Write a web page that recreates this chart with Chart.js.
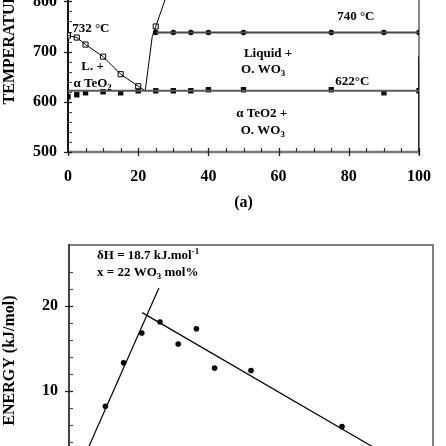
<!DOCTYPE html>
<html><head><meta charset="utf-8">
<script src="https://cdn.jsdelivr.net/npm/chart.js@4.4.0/dist/chart.umd.min.js"></script>
<style>
html,body{margin:0;padding:0;width:446px;height:446px;overflow:hidden;background:#fff;position:relative;}
#c1{position:absolute;left:0;top:-130px;width:446px;height:345px;}
#c2{position:absolute;left:0;top:224px;width:446px;height:307px;}
</style></head><body>
<canvas id="c1" width="446" height="345"></canvas>
<canvas id="c2" width="446" height="307"></canvas>
<script>
// ---------- (a) phase diagram TeO2 - WO3 ----------
const liqX = [0, 2.5, 5, 10, 15, 20, 25];
const liqT = [732, 728, 714, 690, 655, 631, 750];
const liqLineX = [0, 2.5, 5, 10, 15, 20, 22, 24, 25, 28];
const liqLineT = [732, 728, 714, 690, 655, 631, 622, 730, 750, 810];
const monoX = [25, 30, 35, 40, 50, 75, 90, 100];
const monoT = [738, 738, 738, 738, 738, 738, 738, 738];
const eutX = [0, 2.5, 5, 10, 15, 20, 25, 30, 35, 40, 50, 75, 90, 100];
const eutT = [610, 614, 618, 620, 618, 622, 622, 622, 622, 624, 624, 624, 618, 622];
const eutLineX = [0, 100];
const eutLineT = [622, 622];
const wo3LineX = [100, 100];
const wo3LineT = [690, 500];
const xTicksA = [0, 20, 40, 60, 80, 100];
const yTicksA = [500, 600, 700, 800];

// ---------- (b) energy ----------
const enX = [10, 15, 20, 25, 30, 35, 40, 50, 75];
const enY = [8.2, 13.3, 16.8, 18.1, 15.5, 17.3, 12.7, 12.4, 5.8];
const fit1X = [3, 24.7];
const fit1Y = [1.1, 22.1];
const fit2X = [20.1, 86];
const fit2Y = [19.2, 2.8];
const yTicksB = [10, 20];

const pts = (xs, ys) => xs.map((x, i) => ({x, y: ys[i]}));
const FONT = '"Liberation Serif", "Times New Roman", serif';

function drawRich(ctx, x, y, segs, size, align) {
  let w = 0;
  const m = segs.map(s => {
    const sz = (s.sub || s.sup) ? size * 0.68 : size;
    ctx.font = `bold ${sz}px ${FONT}`;
    const sw = ctx.measureText(s.t).width; w += sw;
    return {s, sz, sw};
  });
  let cx = align === 'left' ? x : x - w / 2;
  const base = y + size * 0.33;
  ctx.textBaseline = 'alphabetic'; ctx.textAlign = 'left'; ctx.fillStyle = '#000';
  m.forEach(({s, sz, sw}) => {
    ctx.font = `bold ${sz}px ${FONT}`;
    let dy = 0;
    if (s.sub) dy = size * 0.25;
    if (s.sup) dy = -size * 0.4;
    ctx.fillText(s.t, cx, base + dy);
    cx += sw;
  });
}

function annot(id, items, size) {
  return { id, afterDatasetsDraw(chart) {
    const {ctx, scales: {x, y}} = chart;
    ctx.save();
    items.forEach(it => drawRich(ctx, x.getPixelForValue(it.x), y.getPixelForValue(it.y), it.segs, size, it.align));
    ctx.restore();
  }};
}

function frame(id, cfg) {
  return { id, beforeDatasetsDraw(chart) {
    const {ctx, chartArea: a, scales: {x, y}} = chart;
    ctx.save();
    const line = (x1, y1, x2, y2, c, w) => { ctx.strokeStyle = c; ctx.lineWidth = w; ctx.beginPath(); ctx.moveTo(x1, y1); ctx.lineTo(x2, y2); ctx.stroke(); };
    if (cfg.top) line(a.left, a.top, a.right + 1, a.top, cfg.top.c, cfg.top.w);
    if (cfg.right) line(a.right, a.top, a.right, a.bottom + (cfg.right.ext || 0), cfg.right.c, cfg.right.w);
    if (cfg.bottom) line(a.left, a.bottom, a.right, a.bottom, cfg.bottom.c, cfg.bottom.w);
    if (cfg.left) line(a.left, a.top - 1, a.left, a.bottom + 1, cfg.left.c, cfg.left.w);
    if (cfg.xMajor) {
      x.ticks.forEach(t => {
        if (Math.abs(t.value % cfg.xStep) > 1e-6) return;
        const px = Math.round(x.getPixelForValue(t.value)) + 0.5;
        if (cfg.xMajor.includes(t.value)) line(px, a.bottom - 4, px, a.bottom + 4, '#222', 1.3);
        else line(px, a.bottom - 4, px, a.bottom, '#333', 1.2);
      });
    }
    y.ticks.forEach(t => {
      if (Math.abs(t.value % cfg.yStep) > 1e-6) return;
      const py = Math.round(y.getPixelForValue(t.value)) + 0.5;
      if (cfg.yMajor.includes(t.value)) line(a.left - 4, py, a.left + 4, py, '#222', 1.3);
      else line(a.left, py, a.left + 4, py, '#444', 1.1);
    });
    ctx.restore();
  }};
}

const labelsA = [
  {x: 6.5, y: 747, segs: [{t: '732 °C'}]},
  {x: 7.0, y: 672, segs: [{t: 'L. +'}]},
  {x: 7.0, y: 638, segs: [{t: 'α TeO'}, {t: '2', sub: 1}]},
  {x: 82, y: 771, segs: [{t: '740 °C'}]},
  {x: 57, y: 698, segs: [{t: 'Liquid +'}]},
  {x: 55.6, y: 666, segs: [{t: 'O. WO'}, {t: '3', sub: 1}]},
  {x: 81, y: 643, segs: [{t: '622°C'}]},
  {x: 55.2, y: 579, segs: [{t: 'α TeO2 +'}]},
  {x: 55.5, y: 545, segs: [{t: 'O. WO'}, {t: '3', sub: 1}]}
];
const labelsB = [
  {x: 7.7, y: 26.0, align: 'left', segs: [{t: 'δH = 18.7 kJ.mol'}, {t: '-1', sup: 1}]},
  {x: 7.7, y: 24.0, align: 'left', segs: [{t: 'x = 22 WO'}, {t: '3', sub: 1}, {t: ' mol%'}]}
];

const tickFont = {family: FONT, weight: 'bold', size: 16};
const titleFont = {family: FONT, weight: 'bold', size: 16};

new Chart(document.getElementById('c1'), {
  type: 'scatter',
  data: {datasets: [
    {data: pts(eutLineX, eutLineT), showLine: true, borderColor: '#5a5a5a', borderWidth: 2, pointRadius: 0},
    {data: pts(monoX, monoT), showLine: true, borderColor: '#4a4a4a', borderWidth: 2, pointRadius: 0},
    {data: pts(wo3LineX, wo3LineT), showLine: true, borderColor: '#000', borderWidth: 1.5, pointRadius: 0},
    {data: pts(liqLineX, liqLineT), showLine: true, borderColor: '#000', borderWidth: 1, pointRadius: 0},
    {data: pts(liqX, liqT), pointStyle: 'rect', pointRadius: 3.6, backgroundColor: '#fff', borderColor: '#000', borderWidth: 1},
    {data: pts(eutX, eutT), pointStyle: 'rect', pointRadius: 3.8, backgroundColor: '#000', borderColor: '#000', borderWidth: 0},
    {data: pts(monoX, monoT), pointStyle: 'circle', pointRadius: 2.8, backgroundColor: '#000', borderColor: '#000', borderWidth: 0}
  ]},
  options: {
    responsive: false, animation: false,
    plugins: {legend: {display: false}, tooltip: {enabled: false}},
    layout: {padding: {top: 31, right: 15, left: 0, bottom: 0}},
    scales: {
      x: {type: 'linear', min: 0, max: 100,
        grid: {display: false, drawTicks: false}, border: {display: false},
        ticks: {stepSize: 5, autoSkip: false, maxRotation: 0, padding: 15, color: '#000', font: tickFont,
          callback: v => xTicksA.includes(v) ? String(v) : ''},
        title: {display: true, text: '(a)', color: '#000', font: titleFont, padding: {top: 0, bottom: 3}},
        afterFit: s => { s.height = 63; }},
      y: {type: 'linear', min: 500, max: 1000,
        grid: {display: false, drawTicks: false}, border: {display: false},
        ticks: {stepSize: 20, autoSkip: false, padding: 11, color: '#000', font: tickFont,
          callback: v => yTicksA.includes(v) ? String(v) : ''},
        title: {display: true, text: 'TEMPERATURE (°C)', color: '#000', font: titleFont, padding: {top: 0, bottom: 0}},
        afterFit: s => { s.width = 68; }}
    }
  },
  plugins: [
    frame('frameA', {left: {c: '#111', w: 2}, bottom: {c: '#7a7a7a', w: 2.5}, right: {c: '#888', w: 2, ext: 3},
      xMajor: xTicksA, xStep: 5, yMajor: yTicksA, yStep: 20}),
    annot('annA', labelsA, 13)
  ]
});

new Chart(document.getElementById('c2'), {
  type: 'scatter',
  data: {datasets: [
    {data: pts(fit1X, fit1Y), showLine: true, borderColor: '#000', borderWidth: 1.2, pointRadius: 0},
    {data: pts(fit2X, fit2Y), showLine: true, borderColor: '#000', borderWidth: 1.2, pointRadius: 0},
    {data: pts(enX, enY), pointStyle: 'circle', pointRadius: 2.8, backgroundColor: '#000', borderColor: '#000', borderWidth: 0}
  ]},
  options: {
    responsive: false, animation: false,
    plugins: {legend: {display: false}, tooltip: {enabled: false}},
    layout: {padding: {top: 21, right: 13, left: 0, bottom: 55}},
    scales: {
      x: {type: 'linear', min: 0, max: 100, display: false},
      y: {type: 'linear', min: 0, max: 27.15,
        grid: {display: false, drawTicks: false}, border: {display: false},
        ticks: {stepSize: 2, autoSkip: false, padding: 11, color: '#000', font: tickFont,
          callback: v => yTicksB.includes(v) ? String(v) : ''},
        title: {display: true, text: 'ENERGY (kJ/mol)', color: '#000', font: titleFont, padding: {top: 0, bottom: 0}},
        afterFit: s => { s.width = 69; }}
    }
  },
  plugins: [
    frame('frameB', {left: {c: '#444', w: 2}, top: {c: '#808080', w: 2}, right: {c: '#808080', w: 2},
      yMajor: yTicksB, yStep: 2}),
    annot('annB', labelsB, 13)
  ]
});
</script>
</body></html>
